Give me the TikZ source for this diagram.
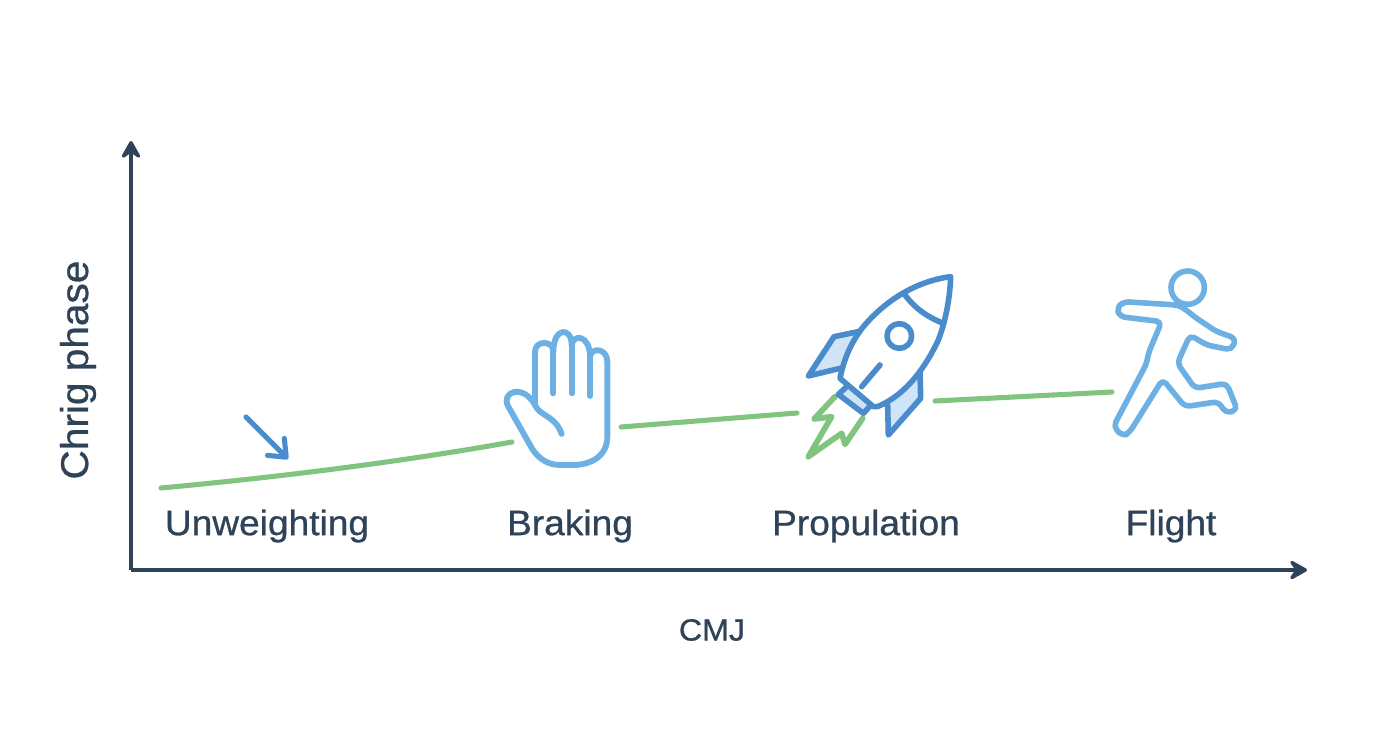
\documentclass[tikz,border=0pt]{standalone}
\usepackage{fontspec}
\setmainfont[FakeBold=.8,FakeStretch=1.05]{Liberation Sans}
\usetikzlibrary{arrows.meta}
\definecolor{axisdark}{HTML}{2E4358}
\definecolor{iconlight}{HTML}{6DB0E3}
\definecolor{iconmid}{HTML}{4A8CCB}
\definecolor{iconfill}{HTML}{CFE4F6}
\definecolor{curvegreen}{HTML}{80C480}
\tikzset{
  axisline/.style={line width=3pt,draw=axisdark,-{Stealth[length=17pt,width=19pt,inset=7pt,round]}},
  phaselabel/.style={text=axisdark,font=\fontsize{26.5}{30}\selectfont,inner sep=0pt},
  curve/.style={line width=3.8pt,draw=curvegreen,line cap=round,line join=round},
  handicon/.style={line width=4.4pt,draw=iconlight,line cap=round,line join=round},
  rocketicon/.style={line width=4.2pt,draw=iconmid,line cap=round,line join=round},
  runnericon/.style={line width=4.2pt,draw=iconlight,line join=round,rounded corners=4pt}
}
\begin{document}
\begin{tikzpicture}[x=.75pt,y=-.75pt]
    \useasboundingbox (0,0) rectangle (1392,752);
    % axes
    \coordinate (origin) at (131,570);
    \coordinate (ytip) at (131,141);
    \coordinate (xtip) at (1307,570);
    \draw[axisline] (origin) -- (ytip);
    \draw[axisline] (origin) -- (xtip);
    % labels
    \node[phaselabel] (unweighting) at (267,526) {Unweighting};
    \node[phaselabel] (braking) at (570,526) {Braking};
    \node[phaselabel] (propulation) at (866,526) {Propulation};
    \node[phaselabel] (flight) at (1171,526) {Flight};
    \node[phaselabel,font=\fontsize{23}{26}\selectfont] (cmj) at (712,630) {CMJ};
    \node[phaselabel,rotate=90,font=\fontsize{29}{32}\selectfont] (yname) at (78,370) {Chrig phase};
    % curve pieces
    \coordinate (c1) at (161,488);
    \coordinate (c2) at (512,442);
    \coordinate (c3) at (621,427);
    \coordinate (c4) at (797,413);
    \coordinate (c5) at (935,401);
    \coordinate (c6) at (1112,392);
    \draw[curve] (c1) .. controls (280,477) and (400,462) .. (c2);
    \draw[curve] (c3) -- (c4);
    \draw[curve] (c5) -- (c6);
    % small arrow
    \coordinate (a1) at (246,417);
    \coordinate (a2) at (288,459);
    \draw[line width=3.8pt,draw=iconmid,line cap=round,-{Straight Barb[length=11pt,width=18pt,line width=3.8pt,round]}] (a1) -- (a2);
    % hand
    \begin{scope}[shift={(490,310)},x=.25pt,y=-.25pt]
      \draw[handicon,fill=white] (135,285) -- (135,125) .. controls (135,90) and (190,90) .. (190,125)
        .. controls (190,50) and (245,50) .. (245,105) .. controls (250,70) and (300,75) .. (300,140)
        .. controls (305,110) and (352,115) .. (352,155) -- (352,380)
        .. controls (352,440) and (300,465) .. (250,465) -- (210,465)
        .. controls (165,465) and (135,435) .. (120,405) -- (55,290)
        .. controls (30,245) and (100,220) .. (135,285);
      \draw[handicon] (190,125) -- (190,250);
      \draw[handicon] (245,105) -- (245,250);
      \draw[handicon] (300,140) -- (300,258);
      \draw[handicon] (135,285) .. controls (150,320) and (195,315) .. (215,372);
    \end{scope}
    % rocket
    \begin{scope}[shift={(790,265)},x=.25pt,y=-.25pt]
      \draw[curve,line width=4.3pt] (135,395) -- (72,462) -- (125,455) -- (55,575) -- (155,505) -- (165,538) -- (218,460);
      \draw[rocketicon,fill=iconfill] (205,200) -- (132,215) -- (55,333) -- (150,310);
      \draw[rocketicon,fill=iconfill] (390,320) -- (392,400) -- (295,510) -- (293,420);
      \draw[rocketicon,fill=iconfill] (170,365) -- (145,388) -- (220,445) -- (243,420);
      \draw[rocketicon,fill=white] (482,35) .. controls (400,45) and (300,90) .. (220,185)
        .. controls (180,235) and (160,290) .. (150,340) -- (250,425) -- (262,425)
        .. controls (350,390) and (410,300) .. (445,225) .. controls (470,160) and (480,90) .. (482,35) -- cycle;
      \draw[rocketicon] (345,90) .. controls (375,130) and (410,155) .. (460,175);
      \draw[rocketicon] (328,213) circle[radius=37];
      \draw[rocketicon] (270,300) -- (215,365);
    \end{scope}
    % runner
    \begin{scope}[shift={(1100,260)},x=.25pt,y=-.25pt]
      \draw[runnericon] (263,83) circle[radius=50];
      \draw[runnericon] (230,135) -- (70,125) -- (50,145) -- (60,170) -- (185,185) -- (145,280) -- (140,310)
        -- (40,500) -- (70,530) -- (90,515) -- (188,358) -- (255,440) -- (355,425) -- (378,460) -- (412,450)
        -- (380,370) -- (285,385) -- (232,310) -- (270,225) -- (320,255) -- (395,270) -- (408,235)
        -- (350,215) -- (290,175) -- (245,140) -- cycle;
    \end{scope}
  \end{tikzpicture}
\end{document}
